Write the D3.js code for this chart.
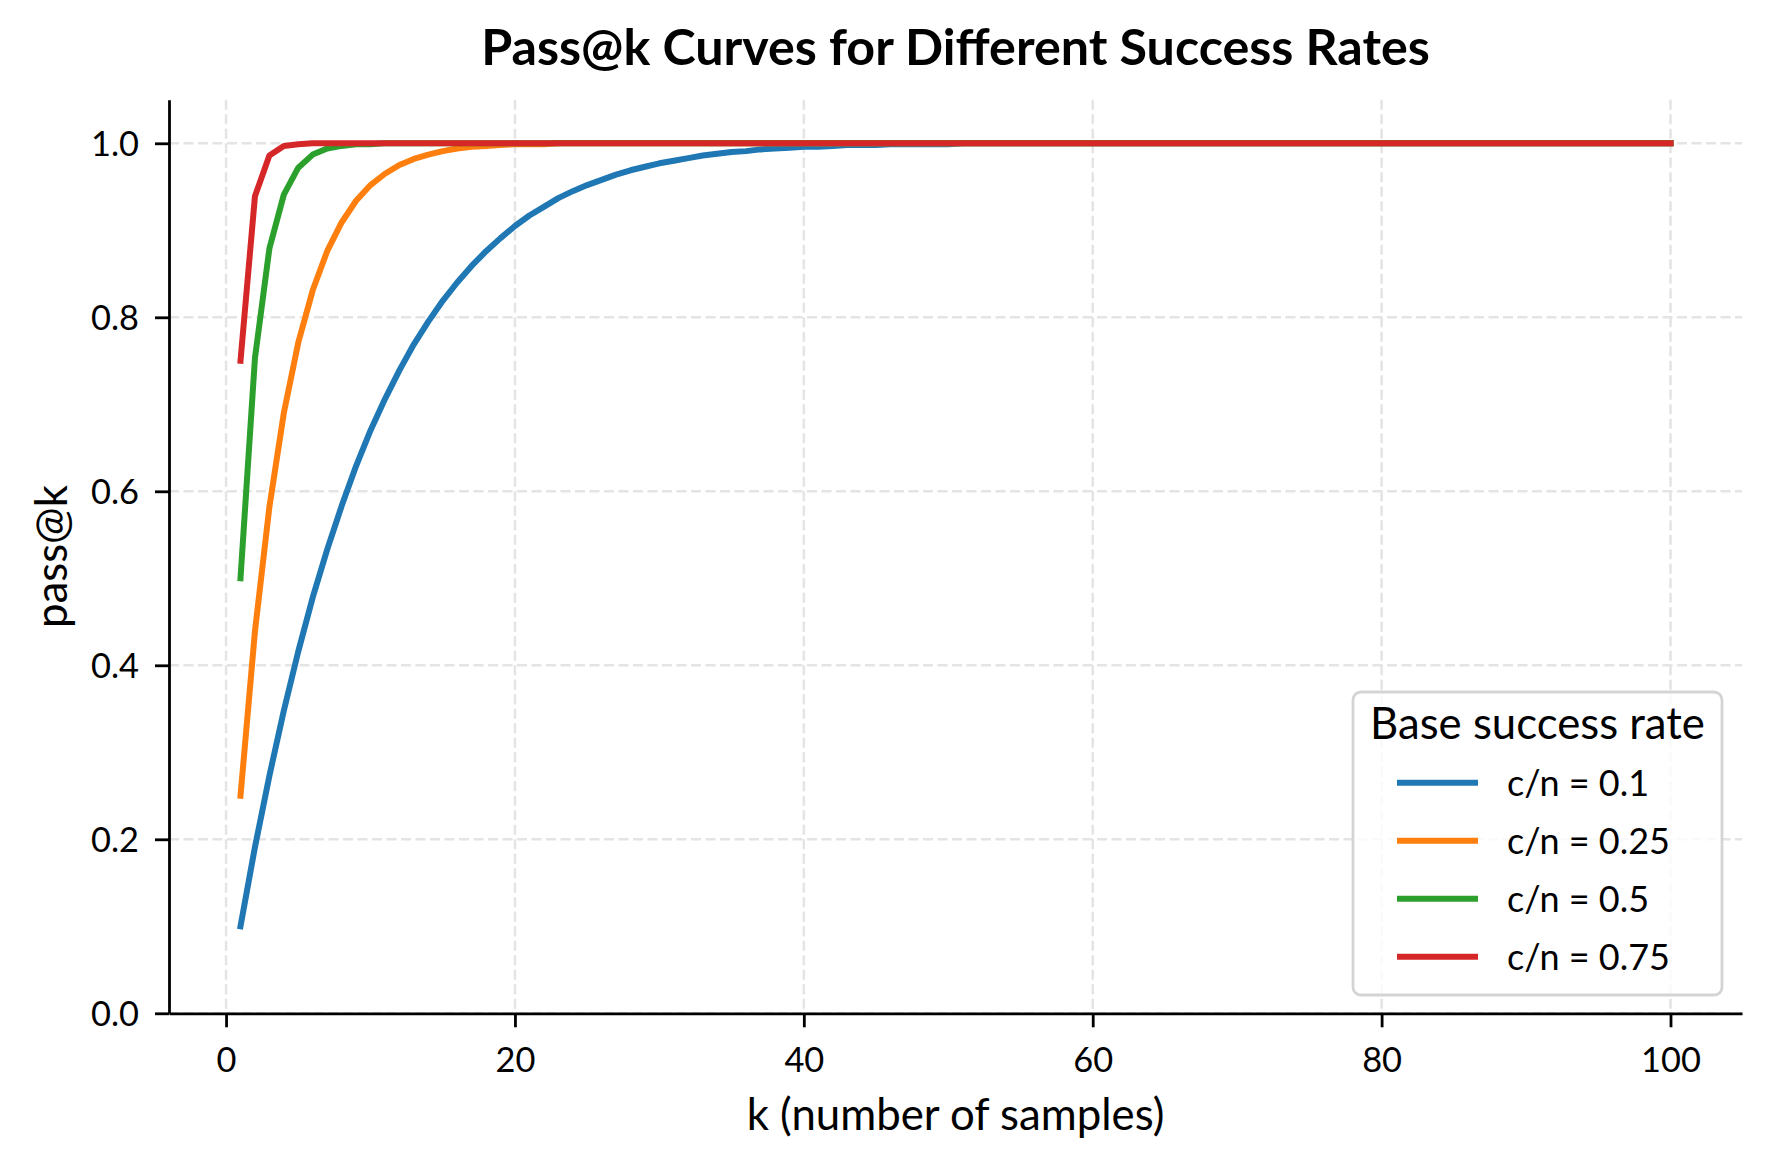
<!DOCTYPE html>
<html>
<head>
<meta charset="utf-8">
<script src="https://cdn.jsdelivr.net/npm/d3@7"></script>
<style>
  html, body { margin: 0; padding: 0; background: #ffffff; }
  svg { display: block; }
</style>
</head>
<body>
<svg id="chart" width="1769" height="1170"></svg>
<script>
// ---------------- DATA ----------------
const kValues = [
  1,2,3,4,5,6,7,8,9,10,11,12,13,14,15,16,17,18,19,20,
  21,22,23,24,25,26,27,28,29,30,31,32,33,34,35,36,37,38,39,40,
  41,42,43,44,45,46,47,48,49,50,51,52,53,54,55,56,57,58,59,60,
  61,62,63,64,65,66,67,68,69,70,71,72,73,74,75,76,77,78,79,80,
  81,82,83,84,85,86,87,88,89,90,91,92,93,94,95,96,97,98,99,100
];

const seriesLabels = ["c/n = 0.1", "c/n = 0.25", "c/n = 0.5", "c/n = 0.75"];
const seriesColors = ["#1f77b4", "#ff7f0e", "#2ca02c", "#d62728"];

const passRate010 = [
  0.100,0.191,0.273,0.348,0.416,0.478,0.533,0.583,0.629,0.670,
  0.706,0.739,0.769,0.795,0.819,0.840,0.859,0.876,0.891,0.905,
  0.917,0.927,0.937,0.945,0.952,0.958,0.964,0.969,0.973,0.977,
  0.980,0.983,0.986,0.988,0.990,0.991,0.993,0.994,0.995,0.996,
  0.996,0.997,0.998,0.998,0.998,0.999,0.999,0.999,0.999,0.999,
  1.000,1.000,1.000,1.000,1.000,1.000,1.000,1.000,1.000,1.000,
  1.000,1.000,1.000,1.000,1.000,1.000,1.000,1.000,1.000,1.000,
  1.000,1.000,1.000,1.000,1.000,1.000,1.000,1.000,1.000,1.000,
  1.000,1.000,1.000,1.000,1.000,1.000,1.000,1.000,1.000,1.000,
  1.000,1.000,1.000,1.000,1.000,1.000,1.000,1.000,1.000,1.000
];
const passRate025 = [
  0.250,0.439,0.582,0.690,0.771,0.831,0.876,0.909,0.934,0.952,
  0.965,0.975,0.982,0.987,0.991,0.994,0.996,0.997,0.998,0.999,
  0.999,0.999,1.000,1.000,1.000,1.000,1.000,1.000,1.000,1.000,
  1.000,1.000,1.000,1.000,1.000,1.000,1.000,1.000,1.000,1.000,
  1.000,1.000,1.000,1.000,1.000,1.000,1.000,1.000,1.000,1.000,
  1.000,1.000,1.000,1.000,1.000,1.000,1.000,1.000,1.000,1.000,
  1.000,1.000,1.000,1.000,1.000,1.000,1.000,1.000,1.000,1.000,
  1.000,1.000,1.000,1.000,1.000,1.000,1.000,1.000,1.000,1.000,
  1.000,1.000,1.000,1.000,1.000,1.000,1.000,1.000,1.000,1.000,
  1.000,1.000,1.000,1.000,1.000,1.000,1.000,1.000,1.000,1.000
];
const passRate050 = [
  0.500,0.753,0.879,0.941,0.972,0.987,0.994,0.997,0.999,0.999,
  1.000,1.000,1.000,1.000,1.000,1.000,1.000,1.000,1.000,1.000,
  1.000,1.000,1.000,1.000,1.000,1.000,1.000,1.000,1.000,1.000,
  1.000,1.000,1.000,1.000,1.000,1.000,1.000,1.000,1.000,1.000,
  1.000,1.000,1.000,1.000,1.000,1.000,1.000,1.000,1.000,1.000,
  1.000,1.000,1.000,1.000,1.000,1.000,1.000,1.000,1.000,1.000,
  1.000,1.000,1.000,1.000,1.000,1.000,1.000,1.000,1.000,1.000,
  1.000,1.000,1.000,1.000,1.000,1.000,1.000,1.000,1.000,1.000,
  1.000,1.000,1.000,1.000,1.000,1.000,1.000,1.000,1.000,1.000,
  1.000,1.000,1.000,1.000,1.000,1.000,1.000,1.000,1.000,1.000
];
const passRate075 = [
  0.750,0.939,0.986,0.997,0.999,1.000,1.000,1.000,1.000,1.000,
  1.000,1.000,1.000,1.000,1.000,1.000,1.000,1.000,1.000,1.000,
  1.000,1.000,1.000,1.000,1.000,1.000,1.000,1.000,1.000,1.000,
  1.000,1.000,1.000,1.000,1.000,1.000,1.000,1.000,1.000,1.000,
  1.000,1.000,1.000,1.000,1.000,1.000,1.000,1.000,1.000,1.000,
  1.000,1.000,1.000,1.000,1.000,1.000,1.000,1.000,1.000,1.000,
  1.000,1.000,1.000,1.000,1.000,1.000,1.000,1.000,1.000,1.000,
  1.000,1.000,1.000,1.000,1.000,1.000,1.000,1.000,1.000,1.000,
  1.000,1.000,1.000,1.000,1.000,1.000,1.000,1.000,1.000,1.000,
  1.000,1.000,1.000,1.000,1.000,1.000,1.000,1.000,1.000,1.000
];

const xTicks = [0, 20, 40, 60, 80, 100];
const yTicks = [0.0, 0.2, 0.4, 0.6, 0.8, 1.0];

const titleText = "Pass@k Curves for Different Success Rates";
const xLabelText = "k (number of samples)";
const yLabelText = "pass@k";
const legendTitleText = "Base success rate";

// ---------------- LAYOUT ----------------
const FONT = "Lato, 'Noto Sans', 'DejaVu Sans', sans-serif";
const svg = d3.select("#chart");
svg.append("rect").attr("width", 1769).attr("height", 1170).attr("fill", "#ffffff");

const plot = { left: 169, right: 1742, top: 99.8, bottom: 1013.3 };

const x = d3.scaleLinear().domain([-3.95, 104.95]).range([plot.left, plot.right]);
const y = d3.scaleLinear().domain([0, 1.05]).range([plot.bottom, plot.top]);

function fitSize(text, weight, target, base) {
  const t = svg.append("text").attr("font-family", FONT).attr("font-weight", weight)
    .attr("font-size", base).text(text);
  const w = t.node().getComputedTextLength();
  t.remove();
  return base * target / w;
}

const tickFs = fitSize("0.0", "normal", 48, 34);
const labelFs = fitSize(yLabelText, "normal", 143, 36);
const titleFs = fitSize(titleText, "bold", 949, 40);
const legTitleFs = fitSize(legendTitleText, "normal", 335, 36);
const legItemFs = fitSize("c/n = 0.25", "normal", 163, 34);

// ---------------- GRID ----------------
const grid = svg.append("g").attr("class", "grid");
grid.selectAll("line.gx").data(xTicks).enter().append("line")
  .attr("x1", d => x(d)).attr("x2", d => x(d))
  .attr("y1", plot.top).attr("y2", plot.bottom)
  .attr("stroke", "#e4e4e4").attr("stroke-width", 2.5).attr("stroke-dasharray", "10,4.5");
grid.selectAll("line.gy").data(yTicks).enter().append("line")
  .attr("x1", plot.left).attr("x2", plot.right)
  .attr("y1", d => y(d)).attr("y2", d => y(d))
  .attr("stroke", "#e4e4e4").attr("stroke-width", 2.5).attr("stroke-dasharray", "10,4.5");

// ---------------- LINES ----------------
const allSeries = [passRate010, passRate025, passRate050, passRate075];
const lineGen = d3.line().x((d, i) => x(kValues[i])).y(d => y(d));
const linesG = svg.append("g");
allSeries.forEach((vals, i) => {
  linesG.append("path").datum(vals)
    .attr("d", lineGen)
    .attr("fill", "none")
    .attr("stroke", seriesColors[i])
    .attr("stroke-width", 6)
    .attr("stroke-linejoin", "round")
    .attr("stroke-linecap", "square");
});

// ---------------- AXES ----------------
const xAxis = d3.axisBottom(x).tickValues(xTicks).tickFormat(d3.format("d"))
  .tickSize(14).tickSizeOuter(0).tickPadding(20);
const yAxis = d3.axisLeft(y).tickValues(yTicks).tickFormat(d3.format(".1f"))
  .tickSize(14).tickSizeOuter(0).tickPadding(16);

const gx = svg.append("g").attr("transform", `translate(0,${plot.bottom})`).call(xAxis);
const gy = svg.append("g").attr("transform", `translate(${plot.left},0)`).call(yAxis);
[gx, gy].forEach(g => {
  g.attr("font-family", FONT).attr("font-size", tickFs);
  g.select(".domain").attr("stroke", "#000").attr("stroke-width", 2.8);
  g.selectAll(".tick line").attr("stroke", "#000").attr("stroke-width", 2.8);
  g.selectAll(".tick text").attr("fill", "#000");
});
gy.selectAll(".tick text").attr("dy", "0.36em");

// ---------------- LABELS ----------------
svg.append("text")
  .attr("x", (plot.left + plot.right) / 2).attr("y", 65)
  .attr("text-anchor", "middle").attr("font-family", FONT)
  .attr("font-weight", "bold").attr("font-size", titleFs).attr("fill", "#000")
  .text(titleText);

svg.append("text")
  .attr("x", (plot.left + plot.right) / 2).attr("y", 1130)
  .attr("text-anchor", "middle").attr("font-family", FONT)
  .attr("font-size", labelFs).attr("fill", "#000")
  .text(xLabelText);

svg.append("text")
  .attr("transform", `translate(67,${(plot.top + plot.bottom) / 2}) rotate(-90)`)
  .attr("text-anchor", "middle").attr("font-family", FONT)
  .attr("font-size", labelFs).attr("fill", "#000")
  .text(yLabelText);

// ---------------- LEGEND ----------------
const leg = svg.append("g");
leg.append("rect")
  .attr("x", 1353).attr("y", 692).attr("width", 369).attr("height", 303)
  .attr("rx", 8).attr("ry", 8)
  .attr("fill", "#ffffff").attr("fill-opacity", 0.8)
  .attr("stroke", "#d4d4d4").attr("stroke-width", 2.8);
leg.append("text")
  .attr("x", 1537.5).attr("y", 739).attr("text-anchor", "middle")
  .attr("font-family", FONT).attr("font-size", legTitleFs).attr("fill", "#000")
  .text(legendTitleText);
const rowY = d3.scaleLinear().domain([0, 3]).range([782.7, 956.7]);
seriesLabels.forEach((lab, i) => {
  leg.append("line")
    .attr("x1", 1397).attr("x2", 1478)
    .attr("y1", rowY(i)).attr("y2", rowY(i))
    .attr("stroke", seriesColors[i]).attr("stroke-width", 6);
  leg.append("text")
    .attr("x", 1507).attr("y", rowY(i)).attr("dy", "0.36em")
    .attr("font-family", FONT).attr("font-size", legItemFs).attr("fill", "#000")
    .text(lab);
});
</script>
</body>
</html>
